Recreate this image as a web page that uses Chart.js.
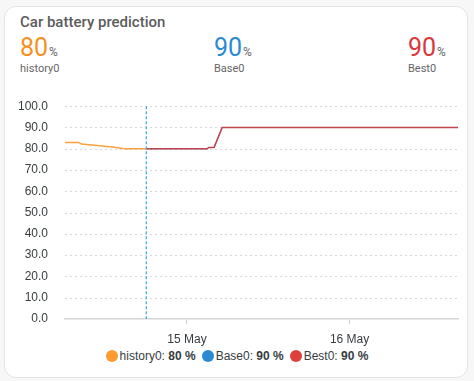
<!DOCTYPE html>
<html>
<head>
<meta charset="utf-8">
<script src="https://cdn.jsdelivr.net/npm/chart.js@4/dist/chart.umd.min.js"></script>
<style>
  body { margin: 0; background: #f7f7f7; width: 474px; height: 381px; overflow: hidden; position: relative; }
  .card { position: absolute; left: 4px; top: 6px; width: 462px; height: 370px; background: #fff;
          border: 1px solid #e3e3e3; border-radius: 12px; }
  .title { position: absolute; left: 20px; top: 13px; font: 500 15px Roboto, sans-serif; color: #5c5c5c; }
  .hdr { position: absolute; top: 33px; font-family: Roboto, sans-serif; }
  .hdr .v { font-size: 25px; font-weight: 400; }
  .hdr .u { font-size: 12px; color: #666; margin-left: 1px; }
  .hdr .n { font-size: 11px; color: #666; margin-top: 0px; }
  #wrap { position: absolute; left: 0; top: 90px; width: 474px; height: 257px; }
  .legend { position: absolute; left: 0; width: 474px; top: 349px; text-align: center;
            font: 12px "Liberation Sans", Arial, sans-serif; color: #373d3f; }
  .legend span.item { margin: 0 3px; }
  .legend i { display: inline-block; width: 12px; height: 12px; border-radius: 6px; vertical-align: -2px; margin-right: 2px; }
</style>
</head>
<body>
<div class="card"></div>
<div class="title">Car battery prediction</div>
<div class="hdr" style="left:20px"><span class="v" style="color:#f7901e">80</span><span class="u">%</span><div class="n">history0</div></div>
<div class="hdr" style="left:214px"><span class="v" style="color:#2a8ad4">90</span><span class="u">%</span><div class="n">Base0</div></div>
<div class="hdr" style="left:408px"><span class="v" style="color:#d8393a">90</span><span class="u">%</span><div class="n">Best0</div></div>
<div id="wrap"><canvas id="myChart"></canvas></div>
<div class="legend" id="legend"></div>
<script>
// hours since 14 May 00:00
const history_x = [6, 8, 8.4, 10, 11.5, 13, 14.5, 15, 18];
const history_y = [83, 83, 82.2, 81.8, 81.3, 80.8, 80.1, 80, 80];
const pred_x = [18, 27, 27.2, 28, 29.2, 64];
const base_y = [80, 80, 80.6, 80.6, 90, 90];
const best_y = [80, 80, 80.6, 80.6, 90, 90];
const series_names = ["history0", "Base0", "Best0"];
const series_now = ["80 %", "90 %", "90 %"];
const series_colors = ["#ff9a2e", "#2a8ad4", "#e0403c"];
const day_ticks = [24, 48];
const day_labels = ["15 May", "16 May"];
const now_hour = 18;

function toPoints(xs, ys) {
  return xs.map((x, i) => ({ x: x, y: ys[i] }));
}

// dashed horizontal grid + "now" marker
const extraLines = {
  id: "extraLines",
  beforeDatasetsDraw(chart) {
    const ctx = chart.ctx;
    const area = chart.chartArea;
    const ys = chart.scales.y;
    ctx.save();
    ctx.strokeStyle = "#d8d8d8";
    ctx.lineWidth = 1;
    ctx.setLineDash([2, 3]);
    ys.ticks.forEach((t) => {
      if (t.value === 0) return;
      const y = Math.round(ys.getPixelForValue(t.value)) + 0.5;
      ctx.beginPath();
      ctx.moveTo(area.left, y);
      ctx.lineTo(area.right, y);
      ctx.stroke();
    });
    ctx.restore();
  },
  afterDatasetsDraw(chart) {
    const ctx = chart.ctx;
    const x = chart.scales.x.getPixelForValue(now_hour);
    const area = chart.chartArea;
    ctx.save();
    ctx.strokeStyle = "#35a9e0";
    ctx.lineWidth = 1.2;
    ctx.setLineDash([3, 2]);
    ctx.beginPath();
    ctx.moveTo(x, area.top);
    ctx.lineTo(x, area.bottom);
    ctx.stroke();
    ctx.restore();
  }
};

let legend_html = "";
for (let i = 0; i < series_names.length; i++) {
  legend_html += `<span class="item"><i style="background:${series_colors[i]}"></i>${series_names[i]}: <b>${series_now[i]}</b></span>`;
}
document.getElementById("legend").innerHTML = legend_html;

const ctx = document.getElementById("myChart").getContext("2d");
new Chart(ctx, {
  type: "line",
  data: {
    datasets: [
      { label: series_names[0], data: toPoints(history_x, history_y), borderColor: "#fba040", borderWidth: 1.5, order: 1 },
      { label: series_names[1], data: toPoints(pred_x, base_y), borderColor: "#2a8ad4", borderWidth: 1, order: 2 },
      { label: series_names[2], data: toPoints(pred_x, best_y), borderColor: "#c0454c", borderWidth: 1.6, order: 0 },
    ],
  },
  options: {
    responsive: true,
    maintainAspectRatio: false,
    animation: false,
    elements: { point: { radius: 0 }, line: { tension: 0 } },
    layout: { padding: { left: 0, right: 16, top: 15, bottom: 0 } },
    plugins: { legend: { display: false }, tooltip: { enabled: false } },
    scales: {
      x: {
        type: "linear",
        min: 6,
        max: 64,
        afterBuildTicks: (scale) => { scale.ticks = day_ticks.map((v) => ({ value: v })); },
        afterFit: (scale) => { scale.height = 28; },
        ticks: {
          autoSkip: false,
          maxRotation: 0,
          padding: 8,
          color: "#373d3f",
          font: { family: "'Liberation Sans', Arial, sans-serif", size: 12 },
          callback: (v) => day_labels[day_ticks.indexOf(v)],
        },
        grid: { drawOnChartArea: false, drawTicks: true, tickLength: 5, color: "#d0d0d0" },
        border: { display: true, color: "#d6d6d6", width: 1.5 },
      },
      y: {
        min: 0,
        max: 100,
        afterFit: (scale) => { scale.width = 65; },
        ticks: {
          stepSize: 10,
          padding: 9,
          color: "#373d3f",
          font: { family: "'Liberation Sans', Arial, sans-serif", size: 12 },
          callback: (v) => v.toFixed(1),
        },
        grid: { display: false },
        border: { display: false },
      },
    },
  },
  plugins: [extraLines],
});
</script>
</body>
</html>
